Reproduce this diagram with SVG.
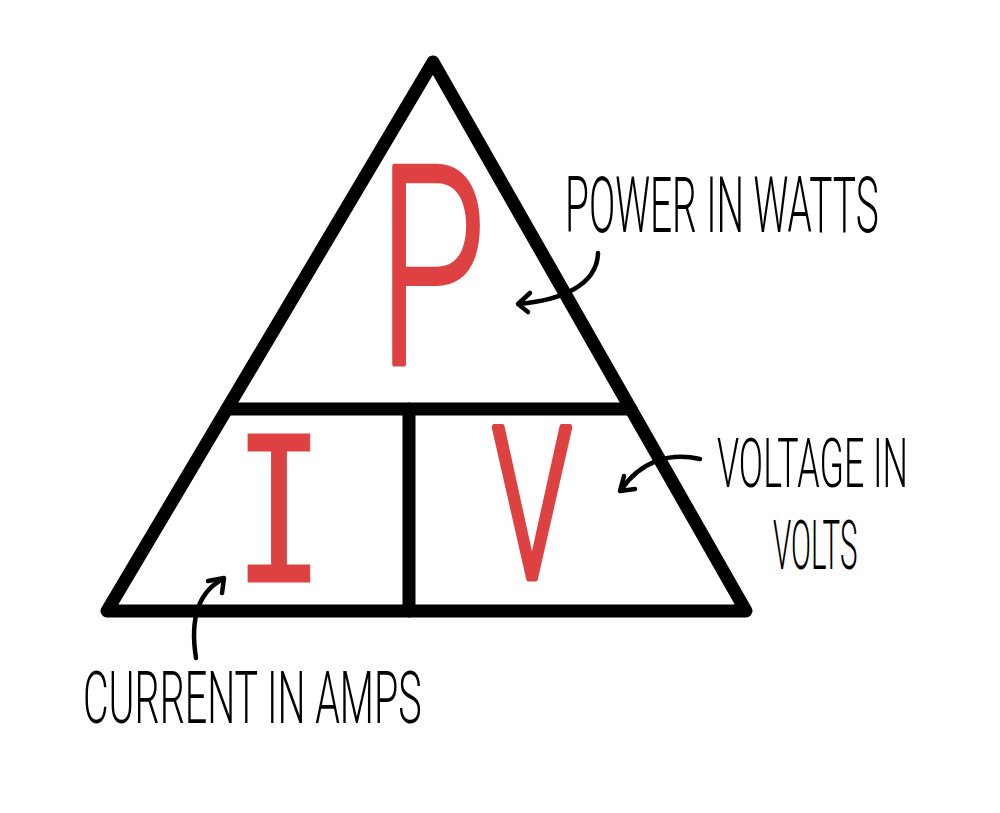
<svg xmlns="http://www.w3.org/2000/svg" width="1000" height="813" viewBox="0 0 1000 813">
<style>
.edge{fill:none;stroke:#000;stroke-width:13;stroke-linecap:round;stroke-linejoin:round}
.arrow{fill:none;stroke:#000;stroke-width:4.5;stroke-linecap:round;stroke-linejoin:round}
.big{fill:#de4141;stroke:#de4141;stroke-width:5;stroke-linejoin:round}
.rob{font-family:Roboto,"Liberation Sans",sans-serif;font-weight:300}
.mono{font-family:"DejaVu Sans Mono",monospace}
.lbl{font-family:Roboto,"Liberation Sans",sans-serif;font-weight:300;fill:#000}
</style>
<rect width="1000" height="813" fill="#fff"/>
<g id="triangle">
<path class="edge" d="M433,62 L107,611 L746,611 Z"/>
<line class="edge" x1="227" y1="409" x2="631" y2="409"/>
<line class="edge" x1="409" y1="409" x2="409" y2="611"/>
</g>
<g id="node-P"><text class="big rob" x="432" y="364" font-size="278" text-anchor="middle" textLength="108" lengthAdjust="spacingAndGlyphs">P</text></g>
<g id="node-I"><text class="big mono" x="279" y="582" font-size="204" text-anchor="middle" textLength="92" lengthAdjust="spacingAndGlyphs" style="stroke-width:1">I</text></g>
<g id="node-V"><text class="big rob" x="532" y="578" font-size="212" text-anchor="middle" textLength="80" lengthAdjust="spacingAndGlyphs" style="stroke-width:7">V</text></g>
<g id="label-power"><text class="lbl" font-size="77" transform="translate(565,232) scale(0.504,1)">POWER IN WATTS</text></g>
<g id="label-voltage"><text class="lbl" font-size="69" transform="translate(717,487) scale(0.519,1)">VOLTAGE IN</text><text class="lbl" font-size="69" transform="translate(773,569) scale(0.427,1)">VOLTS</text></g>
<g id="label-current"><text class="lbl" font-size="72" transform="translate(83,723) scale(0.548,1)">CURRENT IN AMPS</text></g>
<g id="connectors">
<path class="arrow" d="M598,253 C597,285 562,300 519,304"/>
<path class="arrow" d="M530,293 L518,304 L528,312"/>
<path class="arrow" d="M700,459 C668,452 640,462 621,490"/>
<path class="arrow" d="M624,476 L620,491 L635,489"/>
<path class="arrow" d="M196,658 C190,620 198,592 223,579"/>
<path class="arrow" d="M208,581 L224,578 L222,593"/>
</g>
</svg>
